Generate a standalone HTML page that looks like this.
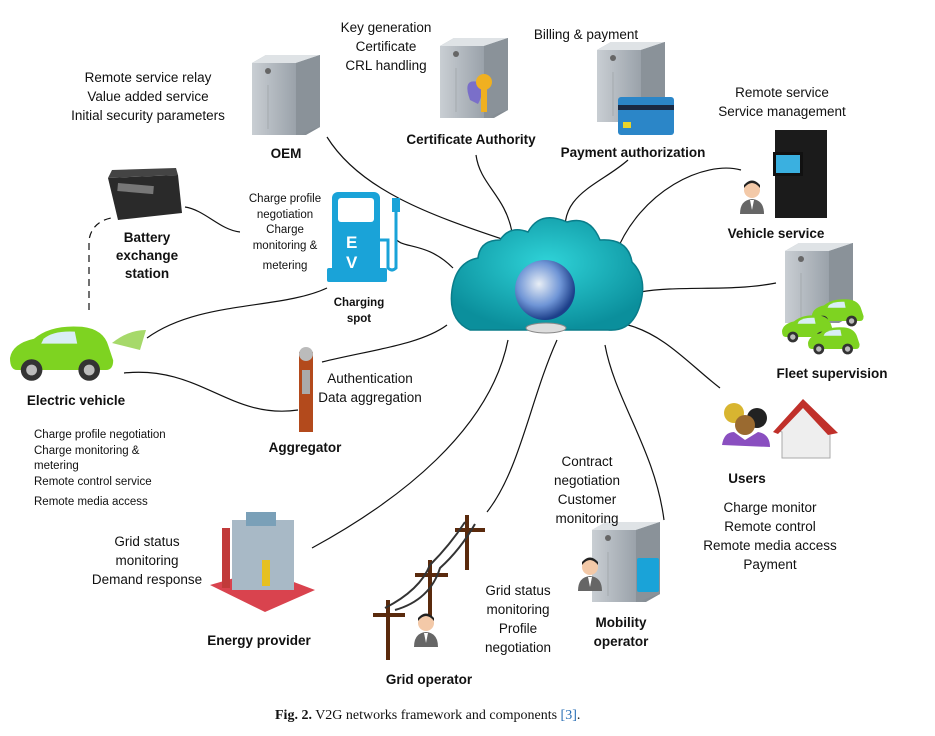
<!DOCTYPE html>
<html><head><meta charset="utf-8"><style>
body{margin:0;background:#fff}
svg{display:block}
text{font-family:"Liberation Sans",sans-serif;fill:#111}
.t{font-size:13.5px}
.b{font-size:13.5px;font-weight:bold}
.s{font-size:11.5px}
</style></head><body>
<svg width="935" height="736" viewBox="0 0 935 736" xmlns="http://www.w3.org/2000/svg">
<defs>
<linearGradient id="sf" x1="0" x2="1"><stop offset="0" stop-color="#c9ced3"/><stop offset="1" stop-color="#9aa2aa"/></linearGradient>
<linearGradient id="ss" x1="0" x2="1"><stop offset="0" stop-color="#a9b0b6"/><stop offset="1" stop-color="#7e868d"/></linearGradient>
<radialGradient id="cl" cx="0.5" cy="0.4" r="0.6"><stop offset="0" stop-color="#2fd3d8"/><stop offset="1" stop-color="#0b8f9c"/></radialGradient>
<radialGradient id="gl" cx="0.4" cy="0.4" r="0.6"><stop offset="0" stop-color="#e8eef5"/><stop offset="0.6" stop-color="#6f95d6"/><stop offset="1" stop-color="#1d3f8a"/></radialGradient>
<g id="srv">
<path d="M0 8 L14 0 L68 0 L68 72 L54 80 L0 80 Z" fill="url(#ss)"/>
<rect x="0" y="8" width="44" height="72" fill="url(#sf)"/>
<path d="M0 8 L14 0 L68 0 L44 8 Z" fill="#dfe3e6"/>
<path d="M44 8 L68 0 L68 72 L44 80Z" fill="#8a9299"/>
<circle cx="16" cy="16" r="3" fill="#666"/>
<rect x="15" y="30" width="2" height="44" fill="#aeb4b9"/>
</g>
<g id="car">
<path d="M0 30 Q2 18 20 14 Q34 2 60 4 Q78 6 82 20 L86 32 Q86 40 80 40 L6 40 Q0 40 0 30Z" fill="#7ed321"/>
<path d="M28 14 Q36 7 54 8 L56 18 L26 18Z" fill="#d9eef5"/>
<circle cx="18" cy="40" r="9" fill="#333"/><circle cx="18" cy="40" r="4.5" fill="#bbb"/>
<circle cx="66" cy="40" r="9" fill="#333"/><circle cx="66" cy="40" r="4.5" fill="#bbb"/>
</g>
<g id="man">
<circle cx="12" cy="10" r="8" fill="#f3c9a8"/>
<path d="M4 8 Q12 -2 20 8 L20 5 Q12 -4 4 5Z" fill="#222"/>
<path d="M0 34 Q0 20 12 19 Q24 20 24 34Z" fill="#666"/>
<path d="M10 20 L14 20 L12 30Z" fill="#fff"/>
</g>
</defs>

<g fill="none" stroke="#111" stroke-width="1.2">
<path d="M327 137 C360 190 430 215 505 240"/>
<path d="M476 155 C480 185 505 195 512 232"/>
<path d="M628 160 C600 185 555 195 567 242"/>
<path d="M741 170 C705 160 640 190 615 255"/>
<path d="M776 283 C730 292 680 285 640 292"/>
<path d="M720 388 C690 365 665 335 628 325"/>
<path d="M664 520 C655 450 615 400 605 345"/>
<path d="M487 512 C520 470 530 400 557 340"/>
<path d="M312 548 C400 500 490 430 508 340"/>
<path d="M322 362 C370 350 420 345 447 325"/>
<path d="M395 237 C400 250 425 240 453 268"/>
<path d="M147 338 C200 300 280 310 327 288"/>
<path d="M124 373 C200 365 230 420 298 410"/>
<path d="M185 207 C205 210 220 230 240 232"/>
<path d="M89 310 L89 240 Q92 222 111 218" stroke-dasharray="7,5"/>
</g>

<g>
<path d="M470 330 Q448 320 452 290 Q456 262 478 258 Q480 240 500 240 Q510 225 528 232 Q540 210 567 222 Q590 215 600 240 Q628 238 632 262 Q648 278 640 305 Q632 332 608 330 Z" fill="url(#cl)" stroke="#0a7d8a" stroke-width="1.5"/>
<ellipse cx="546" cy="328" rx="20" ry="5" fill="#ddd" stroke="#888"/>
<circle cx="545" cy="290" r="30" fill="url(#gl)"/>
</g>

<use href="#srv" x="252" y="55"/>
<use href="#srv" x="440" y="38"/>
<path d="M470 100 Q462 78 478 82 Q485 92 478 104Z" fill="#7a6fc9"/>
<g fill="#f0b020"><circle cx="484" cy="82" r="8"/><rect x="481" y="88" width="6" height="24"/></g>
<use href="#srv" x="597" y="42"/>
<rect x="618" y="97" width="56" height="38" rx="3" fill="#2b86c8"/><rect x="618" y="105" width="56" height="5" fill="#1a2a44"/><rect x="623" y="122" width="8" height="6" fill="#e9d42a"/>
<rect x="775" y="130" width="52" height="88" fill="#1b1b1b"/>
<rect x="773" y="152" width="30" height="24" fill="#111"/><rect x="776" y="155" width="24" height="18" fill="#3ab0e0"/>
<use href="#man" x="740" y="180"/>
<use href="#srv" x="785" y="243"/>
<g transform="translate(812,297) scale(0.6)"><use href="#car"/></g>
<g transform="translate(782,313) scale(0.6)"><use href="#car"/></g>
<g transform="translate(808,325) scale(0.6)"><use href="#car"/></g>
<circle cx="734" cy="413" r="10" fill="#d8b530"/><circle cx="757" cy="418" r="10" fill="#222"/><circle cx="745" cy="425" r="10" fill="#9a6a30"/>
<path d="M722 445 Q724 432 734 432 L745 440 L758 432 Q770 434 770 447Z" fill="#8a4fc0"/>
<path d="M776 430 L803 400 L836 432 L830 432 L830 458 L782 458 L782 432Z" fill="#eee" stroke="#aaa"/>
<path d="M773 432 L803 399 L838 433 L828 435 L803 408 L778 434Z" fill="#c0302a"/>
<path d="M108 178 L178 175 L182 213 L118 220Z" fill="#2a2a2a"/><path d="M108 178 L178 175 L176 168 L112 170Z" fill="#444"/>
<rect x="118" y="183" width="36" height="8" fill="#777" transform="rotate(5 118 183)"/>
<rect x="332" y="192" width="48" height="84" rx="6" fill="#1aa3d8"/><rect x="327" y="268" width="60" height="14" rx="2" fill="#1aa3d8"/>
<rect x="338" y="198" width="36" height="24" rx="3" fill="#fff"/>
<text x="346" y="248" style="font-size:17px;font-weight:bold;fill:#fff">E</text>
<text x="346" y="268" style="font-size:17px;font-weight:bold;fill:#fff">V</text>
<path d="M380 240 L388 240 L388 268 Q392 272 396 268 L396 212" fill="none" stroke="#1aa3d8" stroke-width="3"/>
<rect x="392" y="198" width="8" height="14" fill="#1aa3d8"/>
<g transform="translate(10,322) scale(1.2)"><use href="#car"/></g>
<path d="M112 343 Q128 330 146 330 L140 350 Z" fill="#a6d96a"/>
<rect x="299" y="352" width="14" height="80" fill="#b34a1c"/><circle cx="306" cy="354" r="7" fill="#bbb"/>
<rect x="302" y="370" width="8" height="24" fill="#aaa"/>
<path d="M210 585 L265 612 L315 590 L262 570Z" fill="#d9434e"/>
<rect x="222" y="528" width="8" height="60" fill="#c13a3a"/>
<rect x="232" y="520" width="62" height="70" fill="#a8b9c6"/><rect x="246" y="512" width="30" height="14" fill="#7aa0b8"/>
<rect x="262" y="560" width="8" height="26" fill="#e6c020"/>
<g stroke="#5a2a0d" stroke-width="4" fill="none">
<line x1="467" y1="515" x2="467" y2="570"/><line x1="455" y1="530" x2="485" y2="530"/>
<line x1="430" y1="560" x2="430" y2="620"/><line x1="415" y1="575" x2="448" y2="575"/>
<line x1="388" y1="600" x2="388" y2="660"/><line x1="373" y1="615" x2="405" y2="615"/>
</g>
<g stroke="#333" stroke-width="2" fill="none"><path d="M385 608 Q420 590 430 565 Q450 545 465 522"/><path d="M395 610 Q430 600 440 568 Q460 550 475 524"/></g>
<use href="#man" x="414" y="613"/>
<use href="#srv" x="592" y="522"/>
<use href="#man" x="578" y="557"/>
<rect x="637" y="558" width="22" height="34" rx="2" fill="#1aa3d8"/>

<g text-anchor="middle">
<text class="t" x="148" y="82">Remote service relay</text>
<text class="t" x="148" y="101">Value added service</text>
<text class="t" x="148" y="120">Initial security parameters</text>
<text class="b" x="286" y="158">OEM</text>
<text class="t" x="386" y="32">Key generation</text>
<text class="t" x="386" y="51">Certificate</text>
<text class="t" x="386" y="70">CRL handling</text>
<text class="b" x="471" y="144">Certificate Authority</text>
<text class="t" x="586" y="39">Billing &amp; payment</text>
<text class="b" x="633" y="157">Payment authorization</text>
<text class="t" x="782" y="97">Remote service</text>
<text class="t" x="782" y="116">Service management</text>
<text class="b" x="776" y="238">Vehicle service</text>
<text class="b" x="832" y="378">Fleet supervision</text>
<text class="b" x="747" y="483">Users</text>
<text class="t" x="770" y="512">Charge monitor</text>
<text class="t" x="770" y="531">Remote control</text>
<text class="t" x="770" y="550">Remote media access</text>
<text class="t" x="770" y="569">Payment</text>
<text class="s" x="285" y="202">Charge profile</text>
<text class="s" x="285" y="218">negotiation</text>
<text class="s" x="285" y="233">Charge</text>
<text class="s" x="285" y="249">monitoring &amp;</text>
<text class="s" x="285" y="269">metering</text>
<text class="b" x="147" y="242">Battery</text>
<text class="b" x="147" y="260">exchange</text>
<text class="b" x="147" y="278">station</text>
<text class="s" x="359" y="306" style="font-weight:bold">Charging</text>
<text class="s" x="359" y="322" style="font-weight:bold">spot</text>
<text class="t" x="370" y="383">Authentication</text>
<text class="t" x="370" y="402">Data aggregation</text>
<text class="b" x="76" y="405">Electric vehicle</text>
<text class="b" x="305" y="452">Aggregator</text>
<text class="t" x="147" y="546">Grid status</text>
<text class="t" x="147" y="565">monitoring</text>
<text class="t" x="147" y="584">Demand response</text>
<text class="b" x="259" y="645">Energy provider</text>
<text class="t" x="587" y="466">Contract</text>
<text class="t" x="587" y="485">negotiation</text>
<text class="t" x="587" y="504">Customer</text>
<text class="t" x="587" y="523">monitoring</text>
<text class="t" x="518" y="595">Grid status</text>
<text class="t" x="518" y="614">monitoring</text>
<text class="t" x="518" y="633">Profile</text>
<text class="t" x="518" y="652">negotiation</text>
<text class="b" x="621" y="627">Mobility</text>
<text class="b" x="621" y="646">operator</text>
<text class="b" x="429" y="684">Grid operator</text>
</g>
<g class="s">
<text class="s" x="34" y="438">Charge profile negotiation</text>
<text class="s" x="34" y="454">Charge monitoring &amp;</text>
<text class="s" x="34" y="469">metering</text>
<text class="s" x="34" y="485">Remote control service</text>
<text class="s" x="34" y="505">Remote media access</text>
</g>
<text x="275" y="719" style="font-family:'Liberation Serif',serif;font-size:14px"><tspan font-weight="bold">Fig. 2.</tspan>  V2G networks framework and components <tspan style="fill:#2a6fb5">[3]</tspan>.</text>
</svg>
</body></html>
